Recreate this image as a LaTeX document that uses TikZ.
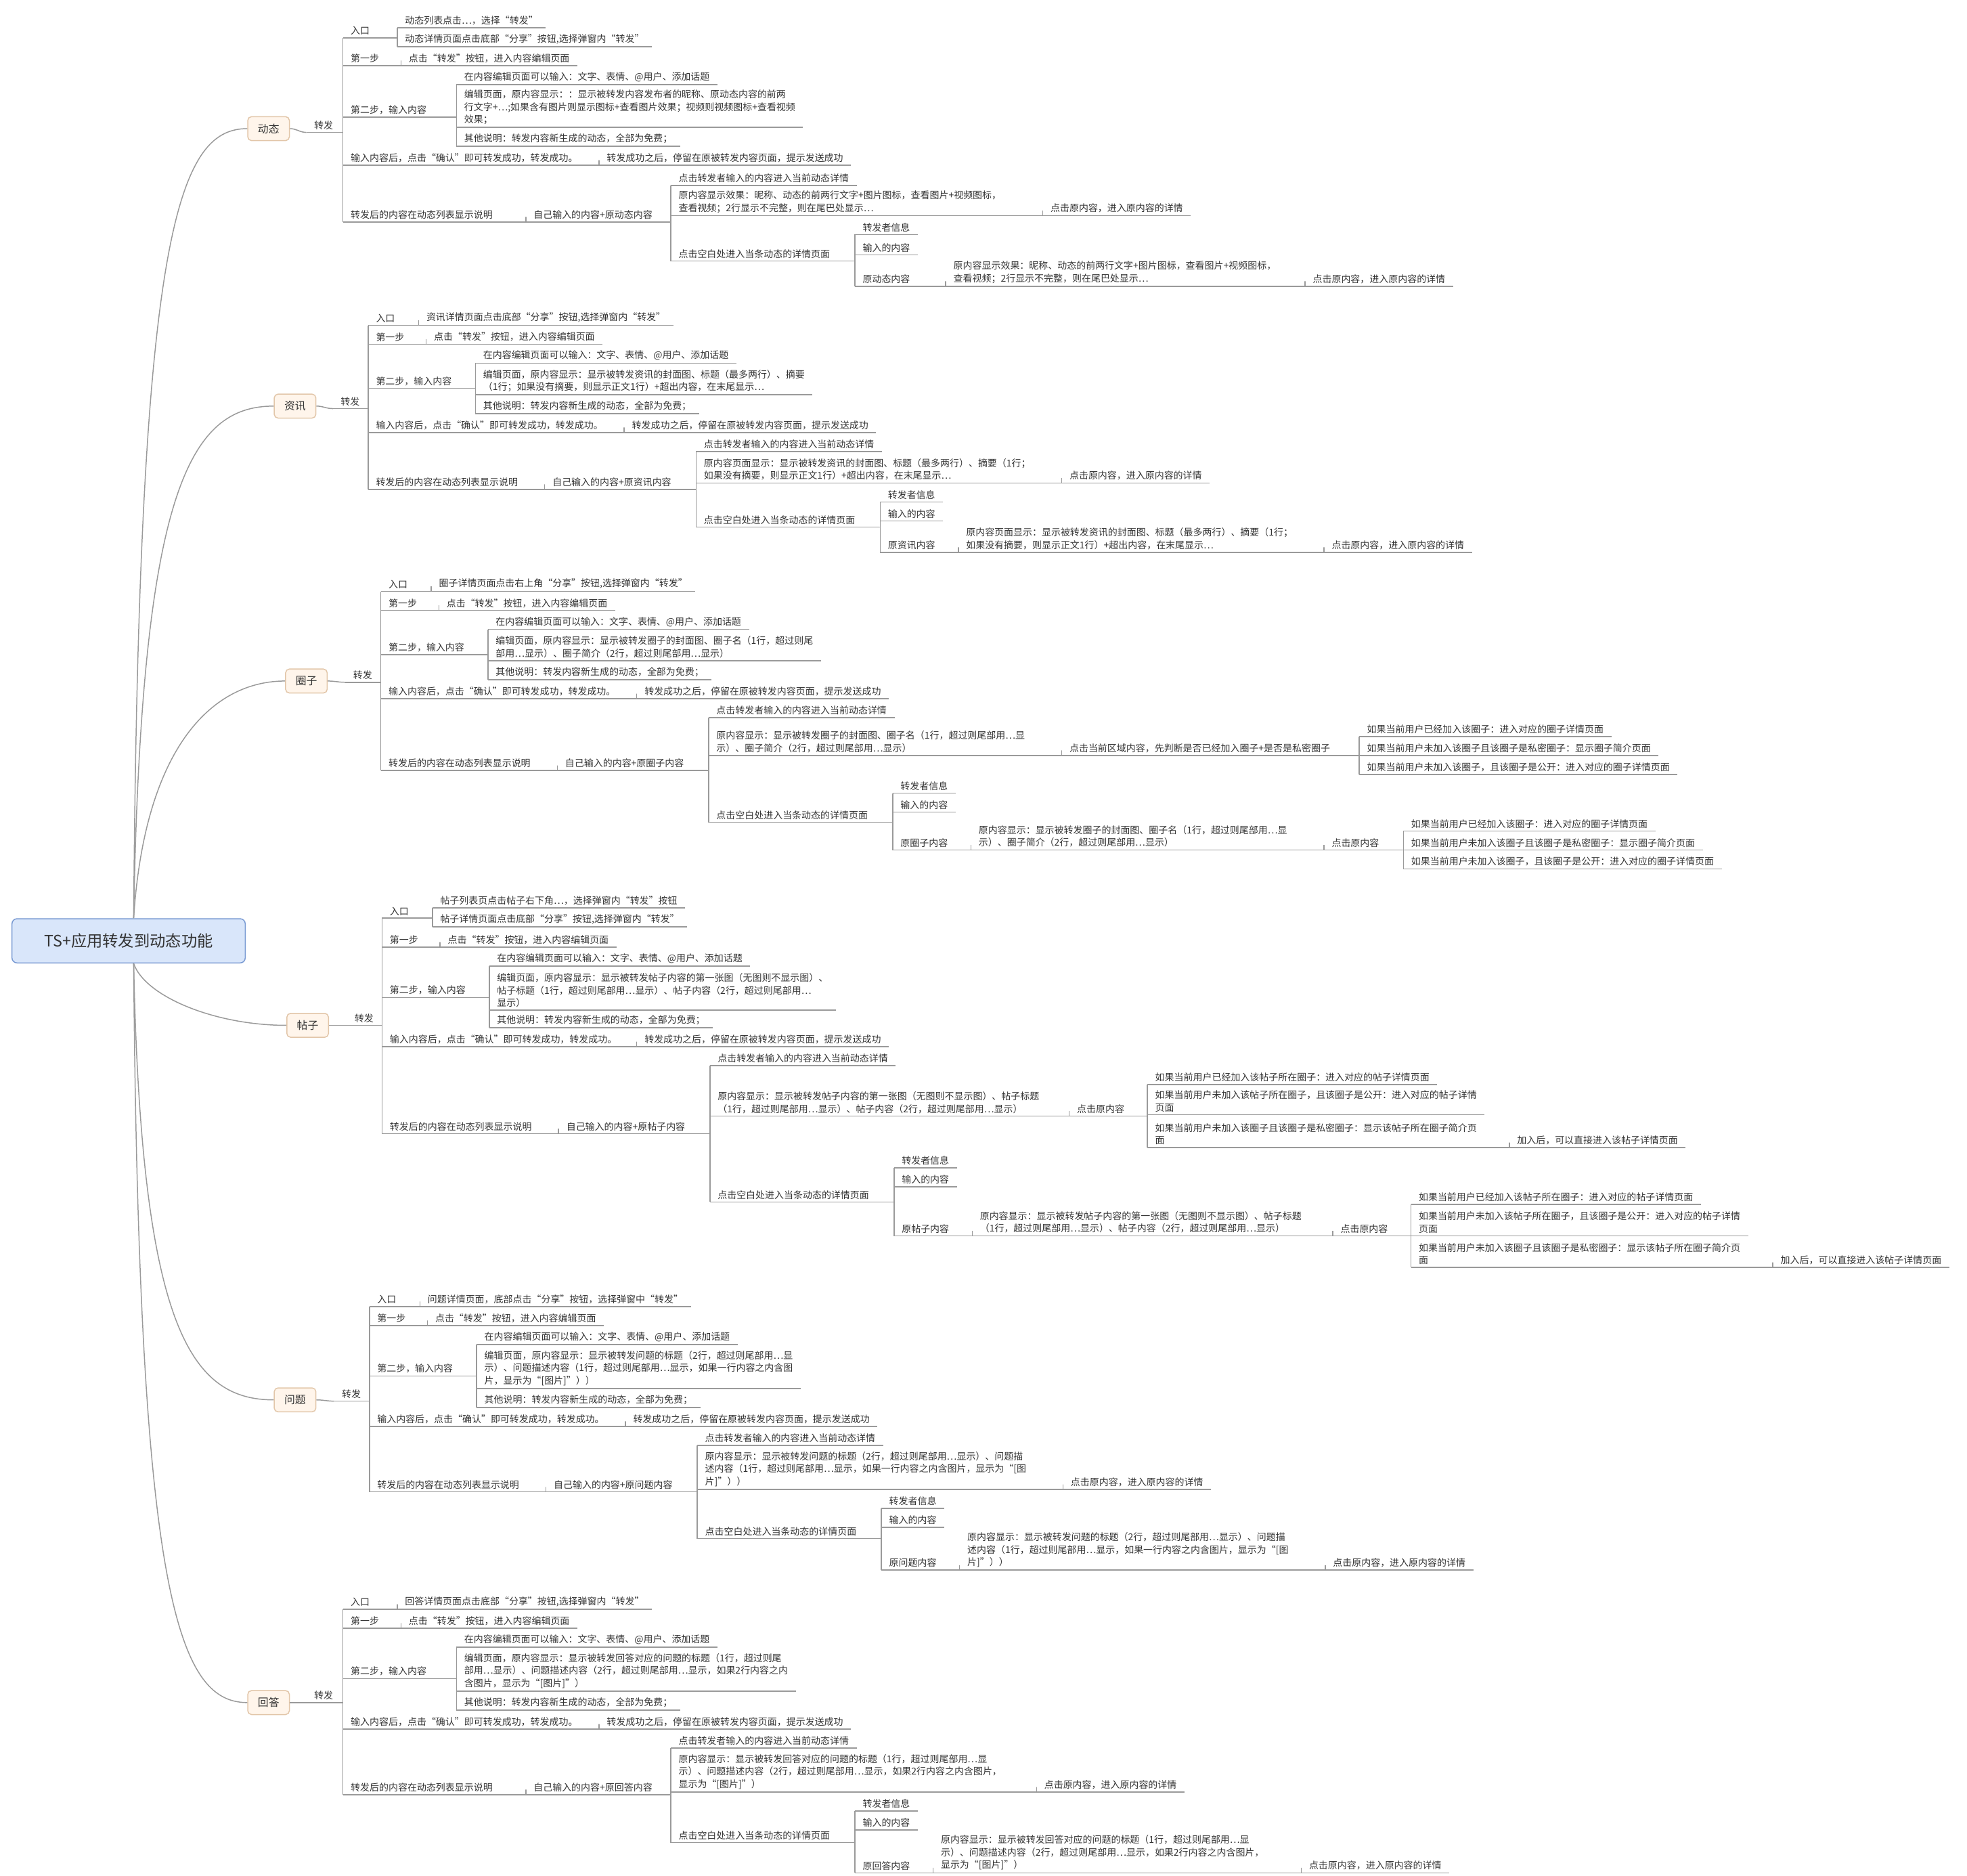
\documentclass[tikz,border=0pt]{standalone}
\usepackage{fontspec}
\setmainfont{Noto Sans CJK SC}
\definecolor{ln}{HTML}{9A9A9A}
\definecolor{tx}{HTML}{333333}
\definecolor{rootfill}{HTML}{D9E6FA}
\definecolor{rootdraw}{HTML}{7A9BD3}
\tikzset{
 t/.style={anchor=south west,inner xsep=6pt,inner ysep=2pt,align=left,font=\fontsize{7.5}{10}\selectfont,text=tx},
 ul/.style={draw=ln,line width=0.8pt},
 lone/.style={draw=ln,line width=0.8pt,rounded corners=4pt},
 topbox/.style={rectangle,rounded corners=3pt,fill=orange!8,draw=brown!45,line width=0.8pt,minimum width=33pt,minimum height=19pt,font=\fontsize{8.5}{10}\selectfont,text=tx},
 rootbox/.style={rectangle,rounded corners=4pt,fill=rootfill,draw=rootdraw,line width=0.8pt,minimum width=185pt,minimum height=35pt,font=\fontsize{12.5}{14}\selectfont,text=tx}
}
\newcommand\N[4]{\node[t] (#1) at (#2,#3) {#4};\draw[ul] (#1.south west)--(#1.south east);}
\newcommand\Pn[5]{\node[t] (#1) at (#2,#3) {#5};\coordinate (#1-e) at (#4,#3);\draw[ul] (#1.south west)--(#1.south east);\draw[ul] (#1.south west)--(#1-e);}
\newcommand\C[2]{\draw[lone] (#1-e) -- (#2.south west |- #1-e) -- (#2.south west);}
\begin{document}
\begin{tikzpicture}[x=1pt,y=-1pt]
\useasboundingbox (0,0) rectangle (1560,1487);
\node[rootbox] (root) at (102,746) {TS+应用转发到动态功能};
\node[topbox] (L1) at (213,102) {动态};
\node[topbox] (L2) at (234,322) {资讯};
\node[topbox] (L3) at (243,540) {圈子};
\node[topbox] (L4) at (244,813) {帖子};
\node[topbox] (L5) at (234,1110) {问题};
\node[topbox] (L6) at (213,1350) {回答};
\coordinate (rt) at (106,728);
\coordinate (rb) at (106,764);
\draw[ul] (rt) .. controls (110,190) and (140,102) .. (L1.west);
\draw[ul] (rt) .. controls (112,390) and (150,322) .. (L2.west);
\draw[ul] (rt) .. controls (115,590) and (170,540) .. (L3.west);
\draw[ul] (rb) .. controls (115,790) and (170,813) .. (L4.west);
\draw[ul] (rb) .. controls (112,1050) and (150,1110) .. (L5.west);
\draw[ul] (rb) .. controls (110,1260) and (140,1350) .. (L6.west);
% ===== 动态
\Pn{a}{243}{105}{272}{转发}\draw[ul] (L1.east) to[out=0,in=180] (a.south west);
\Pn{a1}{272}{30}{315}{入口}\C{a}{a1}
\N{a11}{315}{22}{动态列表点击…，选择“转发”}\C{a1}{a11}
\N{a12}{315}{37}{动态详情页面点击底部“分享”按钮,选择弹窗内“转发”}\C{a1}{a12}
\Pn{a2}{272}{52}{318}{第一步}\C{a}{a2}
\N{a21}{318}{52}{点击“转发”按钮，进入内容编辑页面}\C{a2}{a21}
\Pn{a3}{272}{93}{362}{第二步，输入内容}\C{a}{a3}
\N{a31}{362}{67}{在内容编辑页面可以输入：文字、表情、@用户、添加话题}\C{a3}{a31}
\N{a32}{362}{101}{编辑页面，原内容显示：：显示被转发内容发布者的昵称、原动态内容的前两\\行文字+…;如果含有图片则显示图标+查看图片效果；视频则视频图标+查看视频\\效果；}\C{a3}{a32}
\N{a33}{362}{116}{其他说明：转发内容新生成的动态，全部为免费；}\C{a3}{a33}
\Pn{a4}{272}{131}{475}{输入内容后，点击“确认”即可转发成功，转发成功。}\C{a}{a4}
\N{a41}{475}{131}{转发成功之后，停留在原被转发内容页面，提示发送成功}\C{a4}{a41}
\Pn{a5}{272}{176}{417}{转发后的内容在动态列表显示说明}\C{a}{a5}
\Pn{a51}{417}{176}{532}{自己输入的内容+原动态内容}\C{a5}{a51}
\N{a511}{532}{147}{点击转发者输入的内容进入当前动态详情}\C{a51}{a511}
\Pn{a512}{532}{171}{827}{原内容显示效果：昵称、动态的前两行文字+图片图标，查看图片+视频图标，\\查看视频；2行显示不完整，则在尾巴处显示…}\C{a51}{a512}
\N{a5121}{827}{171}{点击原内容，进入原内容的详情}\C{a512}{a5121}
\Pn{a513}{532}{207}{678}{点击空白处进入当条动态的详情页面}\C{a51}{a513}
\N{a5131}{678}{186}{转发者信息}\C{a513}{a5131}
\N{a5132}{678}{202}{输入的内容}\C{a513}{a5132}
\Pn{a5133}{678}{227}{750}{原动态内容}\C{a513}{a5133}
\Pn{a51331}{750}{227}{1035}{原内容显示效果：昵称、动态的前两行文字+图片图标，查看图片+视频图标，\\查看视频；2行显示不完整，则在尾巴处显示…}\C{a5133}{a51331}
\N{a513311}{1035}{227}{点击原内容，进入原内容的详情}\C{a51331}{a513311}
% ===== 资讯
\Pn{b}{264}{324}{292}{转发}\draw[ul] (L2.east) to[out=0,in=180] (b.south west);
\Pn{b1}{292}{258}{332}{入口}\C{b}{b1}
\N{b11}{332}{258}{资讯详情页面点击底部“分享”按钮,选择弹窗内“转发”}\C{b1}{b11}
\Pn{b2}{292}{273}{338}{第一步}\C{b}{b2}
\N{b21}{338}{273}{点击“转发”按钮，进入内容编辑页面}\C{b2}{b21}
\Pn{b3}{292}{308}{377}{第二步，输入内容}\C{b}{b3}
\N{b31}{377}{288}{在内容编辑页面可以输入：文字、表情、@用户、添加话题}\C{b3}{b31}
\N{b32}{377}{313}{编辑页面，原内容显示：显示被转发资讯的封面图、标题（最多两行）、摘要\\（1行；如果没有摘要，则显示正文1行）+超出内容，在末尾显示…}\C{b3}{b32}
\N{b33}{377}{328}{其他说明：转发内容新生成的动态，全部为免费；}\C{b3}{b33}
\Pn{b4}{292}{343}{495}{输入内容后，点击“确认”即可转发成功，转发成功。}\C{b}{b4}
\N{b41}{495}{343}{转发成功之后，停留在原被转发内容页面，提示发送成功}\C{b4}{b41}
\Pn{b5}{292}{388}{432}{转发后的内容在动态列表显示说明}\C{b}{b5}
\Pn{b51}{432}{388}{552}{自己输入的内容+原资讯内容}\C{b5}{b51}
\N{b511}{552}{358}{点击转发者输入的内容进入当前动态详情}\C{b51}{b511}
\Pn{b512}{552}{383}{842}{原内容页面显示：显示被转发资讯的封面图、标题（最多两行）、摘要（1行；\\如果没有摘要，则显示正文1行）+超出内容，在末尾显示…}\C{b51}{b512}
\N{b5121}{842}{383}{点击原内容，进入原内容的详情}\C{b512}{b5121}
\Pn{b513}{552}{418}{698}{点击空白处进入当条动态的详情页面}\C{b51}{b513}
\N{b5131}{698}{398}{转发者信息}\C{b513}{b5131}
\N{b5132}{698}{413}{输入的内容}\C{b513}{b5132}
\Pn{b5133}{698}{438}{760}{原资讯内容}\C{b513}{b5133}
\Pn{b51331}{760}{438}{1050}{原内容页面显示：显示被转发资讯的封面图、标题（最多两行）、摘要（1行；\\如果没有摘要，则显示正文1行）+超出内容，在末尾显示…}\C{b5133}{b51331}
\N{b513311}{1050}{438}{点击原内容，进入原内容的详情}\C{b51331}{b513311}
% ===== 圈子
\Pn{c}{274}{541}{302}{转发}\draw[ul] (L3.east) to[out=0,in=180] (c.south west);
\Pn{c1}{302}{469}{342}{入口}\C{c}{c1}
\N{c11}{342}{469}{圈子详情页面点击右上角“分享”按钮,选择弹窗内“转发”}\C{c1}{c11}
\Pn{c2}{302}{484}{348}{第一步}\C{c}{c2}
\N{c21}{348}{484}{点击“转发”按钮，进入内容编辑页面}\C{c2}{c21}
\Pn{c3}{302}{519}{387}{第二步，输入内容}\C{c}{c3}
\N{c31}{387}{499}{在内容编辑页面可以输入：文字、表情、@用户、添加话题}\C{c3}{c31}
\N{c32}{387}{524}{编辑页面，原内容显示：显示被转发圈子的封面图、圈子名（1行，超过则尾\\部用…显示）、圈子简介（2行，超过则尾部用…显示）}\C{c3}{c32}
\N{c33}{387}{539}{其他说明：转发内容新生成的动态，全部为免费；}\C{c3}{c33}
\Pn{c4}{302}{554}{505}{输入内容后，点击“确认”即可转发成功，转发成功。}\C{c}{c4}
\N{c41}{505}{554}{转发成功之后，停留在原被转发内容页面，提示发送成功}\C{c4}{c41}
\Pn{c5}{302}{611}{442}{转发后的内容在动态列表显示说明}\C{c}{c5}
\Pn{c51}{442}{611}{562}{自己输入的内容+原圈子内容}\C{c5}{c51}
\N{c511}{562}{569}{点击转发者输入的内容进入当前动态详情}\C{c51}{c511}
\Pn{c512}{562}{599}{842}{原内容显示：显示被转发圈子的封面图、圈子名（1行，超过则尾部用…显\\示）、圈子简介（2行，超过则尾部用…显示）}\C{c51}{c512}
\Pn{c5121}{842}{599}{1078}{点击当前区域内容，先判断是否已经加入圈子+是否是私密圈子}\C{c512}{c5121}
\N{c51211}{1078}{584}{如果当前用户已经加入该圈子：进入对应的圈子详情页面}\C{c5121}{c51211}
\N{c51212}{1078}{599}{如果当前用户未加入该圈子且该圈子是私密圈子：显示圈子简介页面}\C{c5121}{c51212}
\N{c51213}{1078}{614}{如果当前用户未加入该圈子，且该圈子是公开：进入对应的圈子详情页面}\C{c5121}{c51213}
\Pn{c513}{562}{652}{708}{点击空白处进入当条动态的详情页面}\C{c51}{c513}
\N{c5131}{708}{629}{转发者信息}\C{c513}{c5131}
\N{c5132}{708}{644}{输入的内容}\C{c513}{c5132}
\Pn{c5133}{708}{674}{770}{原圈子内容}\C{c513}{c5133}
\Pn{c51331}{770}{674}{1050}{原内容显示：显示被转发圈子的封面图、圈子名（1行，超过则尾部用…显\\示）、圈子简介（2行，超过则尾部用…显示）}\C{c5133}{c51331}
\Pn{c513311}{1050}{674}{1113}{点击原内容}\C{c51331}{c513311}
\N{c5133111}{1113}{659}{如果当前用户已经加入该圈子：进入对应的圈子详情页面}\C{c513311}{c5133111}
\N{c5133112}{1113}{674}{如果当前用户未加入该圈子且该圈子是私密圈子：显示圈子简介页面}\C{c513311}{c5133112}
\N{c5133113}{1113}{689}{如果当前用户未加入该圈子，且该圈子是公开：进入对应的圈子详情页面}\C{c513311}{c5133113}
% ===== 帖子
\Pn{d}{275}{813}{303}{转发}\draw[ul] (L4.east) to[out=0,in=180] (d.south west);
\Pn{d1}{303}{728}{343}{入口}\C{d}{d1}
\N{d11}{343}{720}{帖子列表页点击帖子右下角…，选择弹窗内“转发”按钮}\C{d1}{d11}
\N{d12}{343}{735}{帖子详情页面点击底部“分享”按钮,选择弹窗内“转发”}\C{d1}{d12}
\Pn{d2}{303}{751}{349}{第一步}\C{d}{d2}
\N{d21}{349}{751}{点击“转发”按钮，进入内容编辑页面}\C{d2}{d21}
\Pn{d3}{303}{791}{388}{第二步，输入内容}\C{d}{d3}
\N{d31}{388}{766}{在内容编辑页面可以输入：文字、表情、@用户、添加话题}\C{d3}{d31}
\N{d32}{388}{801}{编辑页面，原内容显示：显示被转发帖子内容的第一张图（无图则不显示图）、\\帖子标题（1行，超过则尾部用…显示）、帖子内容（2行，超过则尾部用…\\显示）}\C{d3}{d32}
\N{d33}{388}{815}{其他说明：转发内容新生成的动态，全部为免费；}\C{d3}{d33}
\Pn{d4}{303}{830}{505}{输入内容后，点击“确认”即可转发成功，转发成功。}\C{d}{d4}
\N{d41}{505}{830}{转发成功之后，停留在原被转发内容页面，提示发送成功}\C{d4}{d41}
\Pn{d5}{303}{899}{443}{转发后的内容在动态列表显示说明}\C{d}{d5}
\Pn{d51}{443}{899}{563}{自己输入的内容+原帖子内容}\C{d5}{d51}
\N{d511}{563}{845}{点击转发者输入的内容进入当前动态详情}\C{d51}{d511}
\Pn{d512}{563}{885}{848}{原内容显示：显示被转发帖子内容的第一张图（无图则不显示图）、帖子标题\\（1行，超过则尾部用…显示）、帖子内容（2行，超过则尾部用…显示）}\C{d51}{d512}
\Pn{d5121}{848}{885}{910}{点击原内容}\C{d512}{d5121}
\N{d51211}{910}{860}{如果当前用户已经加入该帖子所在圈子：进入对应的帖子详情页面}\C{d5121}{d51211}
\N{d51212}{910}{884}{如果当前用户未加入该帖子所在圈子，且该圈子是公开：进入对应的帖子详情\\页面}\C{d5121}{d51212}
\Pn{d51213}{910}{910}{1197}{如果当前用户未加入该圈子且该圈子是私密圈子：显示该帖子所在圈子简介页\\面}\C{d5121}{d51213}
\N{d512131}{1197}{910}{加入后，可以直接进入该帖子详情页面}\C{d51213}{d512131}
\Pn{d513}{563}{953}{709}{点击空白处进入当条动态的详情页面}\C{d51}{d513}
\N{d5131}{709}{926}{转发者信息}\C{d513}{d5131}
\N{d5132}{709}{941}{输入的内容}\C{d513}{d5132}
\Pn{d5133}{709}{980}{771}{原帖子内容}\C{d513}{d5133}
\Pn{d51331}{771}{980}{1057}{原内容显示：显示被转发帖子内容的第一张图（无图则不显示图）、帖子标题\\（1行，超过则尾部用…显示）、帖子内容（2行，超过则尾部用…显示）}\C{d5133}{d51331}
\Pn{d513311}{1057}{980}{1119}{点击原内容}\C{d51331}{d513311}
\N{d5133111}{1119}{955}{如果当前用户已经加入该帖子所在圈子：进入对应的帖子详情页面}\C{d513311}{d5133111}
\N{d5133112}{1119}{980}{如果当前用户未加入该帖子所在圈子，且该圈子是公开：进入对应的帖子详情\\页面}\C{d513311}{d5133112}
\Pn{d5133113}{1119}{1005}{1406}{如果当前用户未加入该圈子且该圈子是私密圈子：显示该帖子所在圈子简介页\\面}\C{d513311}{d5133113}
\N{d51331131}{1406}{1005}{加入后，可以直接进入该帖子详情页面}\C{d5133113}{d51331131}
% ===== 问题
\Pn{e}{265}{1111}{293}{转发}\draw[ul] (L5.east) to[out=0,in=180] (e.south west);
\Pn{e1}{293}{1036}{333}{入口}\C{e}{e1}
\N{e11}{333}{1036}{问题详情页面，底部点击“分享”按钮，选择弹窗中“转发”}\C{e1}{e11}
\Pn{e2}{293}{1051}{339}{第一步}\C{e}{e2}
\N{e21}{339}{1051}{点击“转发”按钮，进入内容编辑页面}\C{e2}{e21}
\Pn{e3}{293}{1091}{378}{第二步，输入内容}\C{e}{e3}
\N{e31}{378}{1066}{在内容编辑页面可以输入：文字、表情、@用户、添加话题}\C{e3}{e31}
\N{e32}{378}{1101}{编辑页面，原内容显示：显示被转发问题的标题（2行，超过则尾部用…显\\示）、问题描述内容（1行，超过则尾部用…显示，如果一行内容之内含图\\片，显示为“[图片]”））}\C{e3}{e32}
\N{e33}{378}{1116}{其他说明：转发内容新生成的动态，全部为免费；}\C{e3}{e33}
\Pn{e4}{293}{1131}{496}{输入内容后，点击“确认”即可转发成功，转发成功。}\C{e}{e4}
\N{e41}{496}{1131}{转发成功之后，停留在原被转发内容页面，提示发送成功}\C{e4}{e41}
\Pn{e5}{293}{1183}{433}{转发后的内容在动态列表显示说明}\C{e}{e5}
\Pn{e51}{433}{1183}{553}{自己输入的内容+原问题内容}\C{e5}{e51}
\N{e511}{553}{1146}{点击转发者输入的内容进入当前动态详情}\C{e51}{e511}
\Pn{e512}{553}{1181}{843}{原内容显示：显示被转发问题的标题（2行，超过则尾部用…显示）、问题描\\述内容（1行，超过则尾部用…显示，如果一行内容之内含图片，显示为“[图\\片]”））}\C{e51}{e512}
\N{e5121}{843}{1181}{点击原内容，进入原内容的详情}\C{e512}{e5121}
\Pn{e513}{553}{1220}{699}{点击空白处进入当条动态的详情页面}\C{e51}{e513}
\N{e5131}{699}{1196}{转发者信息}\C{e513}{e5131}
\N{e5132}{699}{1211}{输入的内容}\C{e513}{e5132}
\Pn{e5133}{699}{1245}{761}{原问题内容}\C{e513}{e5133}
\Pn{e51331}{761}{1245}{1051}{原内容显示：显示被转发问题的标题（2行，超过则尾部用…显示）、问题描\\述内容（1行，超过则尾部用…显示，如果一行内容之内含图片，显示为“[图\\片]”））}\C{e5133}{e51331}
\N{e513311}{1051}{1245}{点击原内容，进入原内容的详情}\C{e51331}{e513311}
% ===== 回答
\Pn{f}{243}{1350}{272}{转发}\draw[ul] (L6.east) to[out=0,in=180] (f.south west);
\Pn{f1}{272}{1276}{315}{入口}\C{f}{f1}
\N{f11}{315}{1276}{回答详情页面点击底部“分享”按钮,选择弹窗内“转发”}\C{f1}{f11}
\Pn{f2}{272}{1291}{318}{第一步}\C{f}{f2}
\N{f21}{318}{1291}{点击“转发”按钮，进入内容编辑页面}\C{f2}{f21}
\Pn{f3}{272}{1331}{362}{第二步，输入内容}\C{f}{f3}
\N{f31}{362}{1306}{在内容编辑页面可以输入：文字、表情、@用户、添加话题}\C{f3}{f31}
\N{f32}{362}{1341}{编辑页面，原内容显示：显示被转发回答对应的问题的标题（1行，超过则尾\\部用…显示）、问题描述内容（2行，超过则尾部用…显示，如果2行内容之内\\含图片，显示为“[图片]”）}\C{f3}{f32}
\N{f33}{362}{1356}{其他说明：转发内容新生成的动态，全部为免费；}\C{f3}{f33}
\Pn{f4}{272}{1371}{475}{输入内容后，点击“确认”即可转发成功，转发成功。}\C{f}{f4}
\N{f41}{475}{1371}{转发成功之后，停留在原被转发内容页面，提示发送成功}\C{f4}{f41}
\Pn{f5}{272}{1423}{417}{转发后的内容在动态列表显示说明}\C{f}{f5}
\Pn{f51}{417}{1423}{532}{自己输入的内容+原回答内容}\C{f5}{f51}
\N{f511}{532}{1386}{点击转发者输入的内容进入当前动态详情}\C{f51}{f511}
\Pn{f512}{532}{1421}{822}{原内容显示：显示被转发回答对应的问题的标题（1行，超过则尾部用…显\\示）、问题描述内容（2行，超过则尾部用…显示，如果2行内容之内含图片，\\显示为“[图片]”）}\C{f51}{f512}
\N{f5121}{822}{1421}{点击原内容，进入原内容的详情}\C{f512}{f5121}
\Pn{f513}{532}{1461}{678}{点击空白处进入当条动态的详情页面}\C{f51}{f513}
\N{f5131}{678}{1436}{转发者信息}\C{f513}{f5131}
\N{f5132}{678}{1451}{输入的内容}\C{f513}{f5132}
\Pn{f5133}{678}{1485}{740}{原回答内容}\C{f513}{f5133}
\Pn{f51331}{740}{1485}{1032}{原内容显示：显示被转发回答对应的问题的标题（1行，超过则尾部用…显\\示）、问题描述内容（2行，超过则尾部用…显示，如果2行内容之内含图片，\\显示为“[图片]”）}\C{f5133}{f51331}
\N{f513311}{1032}{1485}{点击原内容，进入原内容的详情}\C{f51331}{f513311}
\end{tikzpicture}
\end{document}
